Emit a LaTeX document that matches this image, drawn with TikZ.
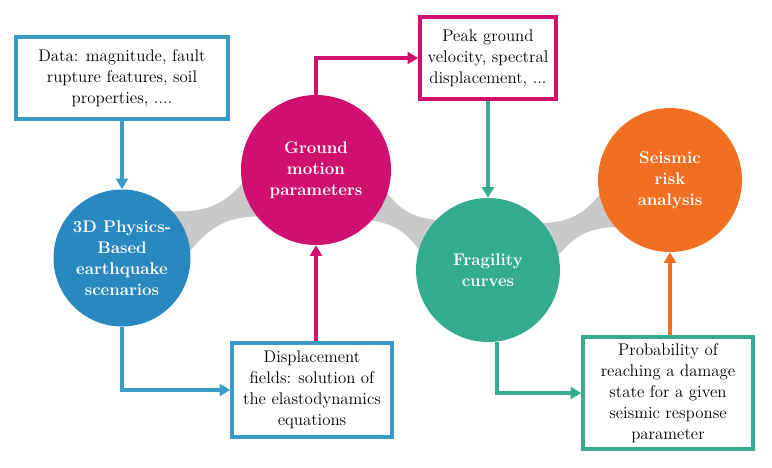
\documentclass[tikz,border=0pt]{standalone}
\usepackage{tikz}
\usetikzlibrary{arrows.meta,positioning,calc,backgrounds}
\definecolor{cblue}{HTML}{2A88C0}
\definecolor{bblue}{HTML}{3A9CC6}
\definecolor{cmag}{HTML}{D0106E}
\definecolor{cteal}{HTML}{35AC90}
\definecolor{corange}{HTML}{F26F22}
\definecolor{cgray}{HTML}{C9C9C9}
\begin{document}
\begin{tikzpicture}[x=0.03cm,y=-0.03cm,
  ball/.style={circle,text=white,font=\bfseries\scshape\Large,align=center,inner sep=0pt},
  info/.style={draw,line width=3pt,fill=white,align=center,font=\Large,inner sep=5pt},
  link/.style={line width=3pt,-{Triangle[length=9pt,width=10pt]}}]
  \useasboundingbox (0,0) rectangle (772,467);
  % circles
  \node[ball,fill=cblue,minimum size=137*0.03cm] (quake) at (122,258)
     {3D Physics-\\Based\\earthquake\\scenarios};
  \node[ball,fill=cmag,minimum size=150*0.03cm] (ground) at (316,170)
     {Ground\\motion\\parameters};
  \node[ball,fill=cteal,minimum size=144*0.03cm] (fragil) at (488,270)
     {Fragility\\curves};
  \node[ball,fill=corange,minimum size=144*0.03cm] (risk) at (670,180)
     {Seismic\\risk\\analysis};
  % gray bands
  \begin{scope}[on background layer]
  \foreach \a/\b in {quake/ground,ground/fragil,fragil/risk}{
    \coordinate (m) at ($(\a.center)!0.5!(\b.center)$);
    \fill[cgray] ($(\a.center)!52pt!90:(\b.center)$)
       .. controls ($(m)!-6pt!90:(\b.center)$) .. ($(\b.center)!52pt!-90:(\a.center)$)
       -- ($(\b.center)!52pt!90:(\a.center)$)
       .. controls ($(m)!-6pt!-90:(\b.center)$) .. ($(\a.center)!52pt!-90:(\b.center)$) -- cycle;
  }
  \end{scope}
  % boxes
  \node[info,draw=bblue,minimum width=212*0.03cm,minimum height=82*0.03cm] (data) at (122,78)
     {Data: magnitude, fault\\rupture features, soil\\properties, ....};
  \node[info,draw=cmag,minimum width=136*0.03cm,minimum height=82*0.03cm] (peak) at (488,58)
     {Peak ground\\velocity, spectral\\displacement, ...};
  \node[info,draw=bblue,minimum width=160*0.03cm,minimum height=94*0.03cm] (disp) at (312,390)
     {Displacement\\fields: solution of\\the elastodynamics\\equations};
  \node[info,draw=cteal,minimum width=170*0.03cm,minimum height=112*0.03cm] (prob) at (668,393)
     {Probability of\\reaching a damage\\state for a given\\seismic response\\parameter};
  % connectors
  \draw[link,bblue] (data.south) -- (quake.north);
  \draw[link,bblue] (quake.south) |- (disp.west);
  \draw[link,cmag] (disp.north -| ground.south) -- (ground.south);
  \draw[link,cmag] (ground.north) |- (peak.west);
  \draw[link,cteal] (peak.south) -- (fragil.north);
  \draw[link,cteal] ([xshift=9*0.03cm]fragil.south) |- (prob.west);
  \draw[link,corange] (prob.north -| risk.south) -- (risk.south);
\end{tikzpicture}
\end{document}
